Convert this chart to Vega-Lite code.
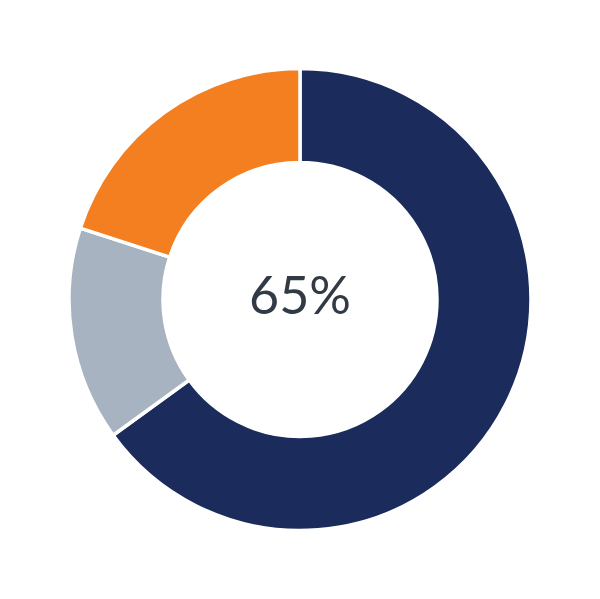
{
  "$schema": "https://vega.github.io/schema/vega-lite/v6.json",
  "width": 600,
  "height": 599,
  "autosize": {"type": "fit", "contains": "padding"},
  "padding": 0,
  "background": "white",
  "view": {"stroke": null},
  "data": {"values": [
    {"category": "A", "value": 65, "rank": 1},
    {"category": "B", "value": 15, "rank": 2},
    {"category": "C", "value": 20, "rank": 3}
  ]},
  "layer": [
    {
      "mark": {"type": "arc", "outerRadius": 231, "innerRadius": 137, "stroke": "white", "strokeWidth": 3.5},
      "encoding": {
        "theta": {"field": "value", "type": "quantitative", "stack": true},
        "order": {"field": "rank", "type": "quantitative"},
        "color": {
          "field": "category", "type": "nominal", "legend": null,
          "scale": {"domain": ["A", "B", "C"], "range": ["#1b2b5b", "#a8b3c2", "#f47f20"]}
        }
      }
    },
    {
      "data": {"values": [{"label": "65%"}]},
      "mark": {"type": "text", "font": "Lato", "fontWeight": 400, "fontSize": 52, "color": "#323b45", "align": "center", "baseline": "middle", "dy": -2},
      "encoding": {"text": {"field": "label"}}
    }
  ]
}
